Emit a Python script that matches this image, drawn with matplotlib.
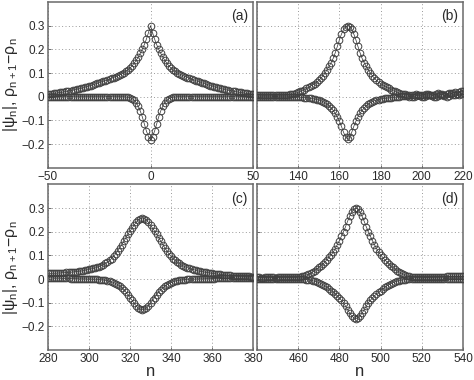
import numpy as np
import matplotlib
matplotlib.use("Agg")
import matplotlib.pyplot as plt

plt.rcParams['font.family'] = ['Liberation Sans', 'DejaVu Sans']
plt.rcParams['axes.unicode_minus'] = True
plt.rcParams['mathtext.default'] = 'regular'

# ---------------- data ----------------
# panel (a): n = -50 .. 50
n_start_a = -50
psi_a = [.011, .012, .013, .014, .015, .017, .018, .019, .021, .022, .024, .026, .027, .029, .031, .033, .035, .037, .040, .042,
         .045, .047, .050, .053, .056, .059, .062, .065, .068, .071, .075, .078, .081, .085, .088, .092, .096, .101, .107, .113,
         .121, .130, .141, .153, .167, .183, .200, .220, .243, .270,
         .300,
         .270, .243, .220, .200, .183, .167, .153, .141, .130, .121, .113, .107, .101, .096, .092, .088, .085, .081, .078, .075,
         .071, .068, .065, .062, .059, .056, .053, .050, .047, .045, .042, .040, .037, .035, .033, .031, .029, .027, .026, .024,
         .022, .021, .019, .018, .017, .015, .014, .013, .012, .011]
drho_a = [0.0] * 38 + [-.001, -.002, -.004, -.008, -.015, -.025, -.040, -.060, -.085, -.115, -.145, -.168,
                       -.183,
                       -.168, -.145, -.115, -.085, -.060, -.040, -.025, -.015, -.008, -.004, -.002, -.001] + [0.0] * 38

# panel (b): n = 120 .. 220
n_start_b = 120
psi_b = [.007, .008, .008, .007, .007, .008, .008, .007, .007, .007, .008, .008, .008, .008, .008,
         .009, .010, .011, .013, .015, .018, .022, .026, .030, .035, .040, .045, .050, .055, .061, .069, .078, .088, .099,
         .114, .128, .144, .162, .186, .212, .240, .264, .284, .296,
         .300,
         .296, .284, .264, .240, .212, .186, .162, .144, .128, .114, .099, .088, .078, .069, .061, .055, .050, .045, .040,
         .035, .030, .026, .022, .018, .015, .013, .011, .010, .009,
         .008, .008, .009, .010, .009, .007, .006, .008, .011, .012, .009, .006, .007, .011, .014, .012, .007, .006, .011,
         .016, .015, .009, .007, .013, .020, .024, .025]
drho_b = [0.0] * 20 + [-.001, -.002, -.003, -.004, -.005, -.006, -.007, -.008, -.010, -.012, -.014, -.017, -.021, -.026,
                       -.032, -.039, -.048, -.058, -.070, -.085, -.104, -.125, -.150, -.170,
                       -.178,
                       -.170, -.150, -.125, -.104, -.085, -.070, -.058, -.048, -.039, -.032, -.026, -.021, -.017, -.014,
                       -.012, -.010, -.008, -.007, -.006, -.005, -.004, -.003, -.002, -.001] + \
         [.000, .001, .002, .004, .003, .000, -.002, .000, .004, .006, .004, .000, -.002, .001, .006, .008, .004, -.001,
          -.002, .003, .009, .010, .005, .000, .002, .010, .016, .018, .012, .006, .010, .017]

# panel (c): n = 280 .. 380
n_start_c = 280
psi_c = [.024, .024, .025, .025, .025, .026, .026, .027, .027, .028, .028, .029, .030, .031, .032, .033, .034, .035, .037,
         .039, .041, .043, .045, .047, .050, .053, .057, .061, .066, .072, .079, .087, .096, .107, .119, .132, .146, .160,
         .175, .190, .203, .215, .228, .240, .250, .256,
         .258,
         .256, .250, .240, .228, .215, .203, .190, .175, .160, .146, .132, .119, .107, .096,
         .087, .079, .072, .066, .060, .055, .051, .048, .045, .042, .040, .038, .035, .033, .032, .030, .029, .027, .026,
         .024, .023, .022, .021, .020, .019, .018, .017, .017, .016, .015, .015, .014, .013, .013, .012, .012, .011, .011,
         .010, .010]
drho_c = [.005, .005, .005, .004, .004, .004, .004, .003, .003, .003, .003, .002, .002, .002, .002, .001, .001, .001, .001,
          .000, .000, .000, .000, .000,
          -.001, -.002, -.003, -.004, -.005, -.007, -.009, -.012, -.015, -.019, -.024, -.030, -.037, -.045, -.055, -.066,
          -.078, -.090, -.102, -.113, -.122, -.128,
          -.130,
          -.128, -.122, -.113, -.102, -.090, -.078, -.066, -.055, -.045, -.037, -.030, -.024, -.019, -.015, -.012, -.009,
          -.007, -.005, -.004, -.003, -.002, -.001,
          .000, .000, .000, .000, .001, .001, .001, .001, .002, .002, .002, .002, .002, .003, .003, .003, .003, .003, .003,
          .004, .004, .004, .004, .004, .004, .004, .004, .005, .005, .005, .005, .005]

# panel (d): n = 440 .. 540
n_start_d = 440
psi_d = [.007, .007, .006, .006, .007, .007, .008, .007, .007, .006, .007, .007, .007, .008, .008, .007, .007, .008, .008,
         .008, .009, .010, .012, .014, .017, .021, .025, .030, .036, .042, .049, .056, .064, .073, .082, .092, .102, .114,
         .129, .146, .163, .182, .201, .222, .245, .266, .284, .296,
         .300,
         .296, .284, .266, .245, .222, .201, .182, .163, .146, .129, .114, .102, .092, .082, .073, .064, .056, .049, .042,
         .036, .030, .025, .021, .017, .014, .012, .010, .009, .008,
         .008, .008, .008, .007, .007, .007, .008, .008, .009, .009, .009, .010, .010, .010, .011, .011, .011, .011, .012,
         .012, .012, .012, .012]
drho_d = [0.0] * 23 + [-.001, -.002, -.003, -.005, -.007, -.009, -.012, -.015, -.019, -.024, -.029, -.035, -.042, -.049,
                       -.056, -.063, -.071, -.080, -.090, -.100, -.115, -.130, -.144, -.156, -.164,
                       -.167,
                       -.164, -.156, -.144, -.130, -.115, -.100, -.090, -.080, -.071, -.063, -.056, -.049, -.042, -.035,
                       -.029, -.024, -.019, -.015, -.012, -.009, -.007, -.005, -.003, -.002, -.001] + [0.0] * 27

panels = [
    dict(label='(a)', start=n_start_a, psi=psi_a, drho=drho_a, xlim=(-50, 50), xticks=[-50, 0, 50],
         xtl=['\u221250', '0', '50']),
    dict(label='(b)', start=n_start_b, psi=psi_b, drho=drho_b, xlim=(120, 220), xticks=[120, 140, 160, 180, 200, 220],
         xtl=['', '140', '160', '180', '200', '220']),
    dict(label='(c)', start=n_start_c, psi=psi_c, drho=drho_c, xlim=(280, 380),
         xticks=[280, 300, 320, 340, 360, 380], xtl=['280', '300', '320', '340', '360', '380']),
    dict(label='(d)', start=n_start_d, psi=psi_d, drho=drho_d, xlim=(440, 540),
         xticks=[440, 460, 480, 500, 520, 540], xtl=['', '460', '480', '500', '520', '540']),
]
yticks = [-0.2, -0.1, 0, 0.1, 0.2, 0.3]
ytl = ['\u22120.2', '\u22120.1', '0', '0.1', '0.2', '0.3']
ylabel_text = '|\u03c8$_n$|, \u03c1$_{n+1}$\u2212\u03c1$_n$'

# ---------------- figure ----------------
fig = plt.figure(figsize=(4.74, 3.80), dpi=100)
W, H = 474, 380
boxes = [(48, 1.9, 253, 167.8), (257, 1.9, 463, 167.8), (48, 184.5, 253, 350), (257, 184.5, 463, 350)]

txt = '#2a2a2a'
mec = '#404040'
for i, (p, b) in enumerate(zip(panels, boxes)):
    x0, y0, x1, y1 = b
    ax = fig.add_axes([x0 / W, 1 - y1 / H, (x1 - x0) / W, (y1 - y0) / H])
    for key in ('psi', 'drho'):
        vals = np.array(p[key])
        n = np.arange(p['start'], p['start'] + len(vals))
        ax.plot(n, vals, '-', color='#333333', lw=0.5, zorder=2)
        ax.plot(n, vals, 'o', ms=4.8, mfc='none', mec=mec, mew=0.7, zorder=3)
    ax.set_xlim(*p['xlim'])
    ax.set_ylim(-0.3, 0.4)
    ax.set_xticks(p['xticks'])
    ax.set_xticklabels(p['xtl'])
    ax.set_yticks(yticks)
    if i % 2 == 0:
        ax.set_yticklabels(ytl)
        ax.set_ylabel(ylabel_text, fontsize=11.5, color=txt, labelpad=1)
    else:
        ax.set_yticklabels([])
    if i >= 2:
        ax.set_xlabel('n', fontsize=12, color=txt, labelpad=-1)
    ax.grid(True, linestyle=(0, (1, 2.5)), color='#9a9a9a', lw=0.7)
    ax.tick_params(direction='in', length=2.5, width=0.6, colors='#555555', labelcolor=txt, labelsize=8.5, pad=2.5)
    for s in ax.spines.values():
        s.set_color('#6a6a6a')
        s.set_linewidth(1.1)
    ax.text(0.975, 0.955, p['label'], transform=ax.transAxes, ha='right', va='top', fontsize=10, color=txt)

fig.savefig('out.png', dpi=100)
